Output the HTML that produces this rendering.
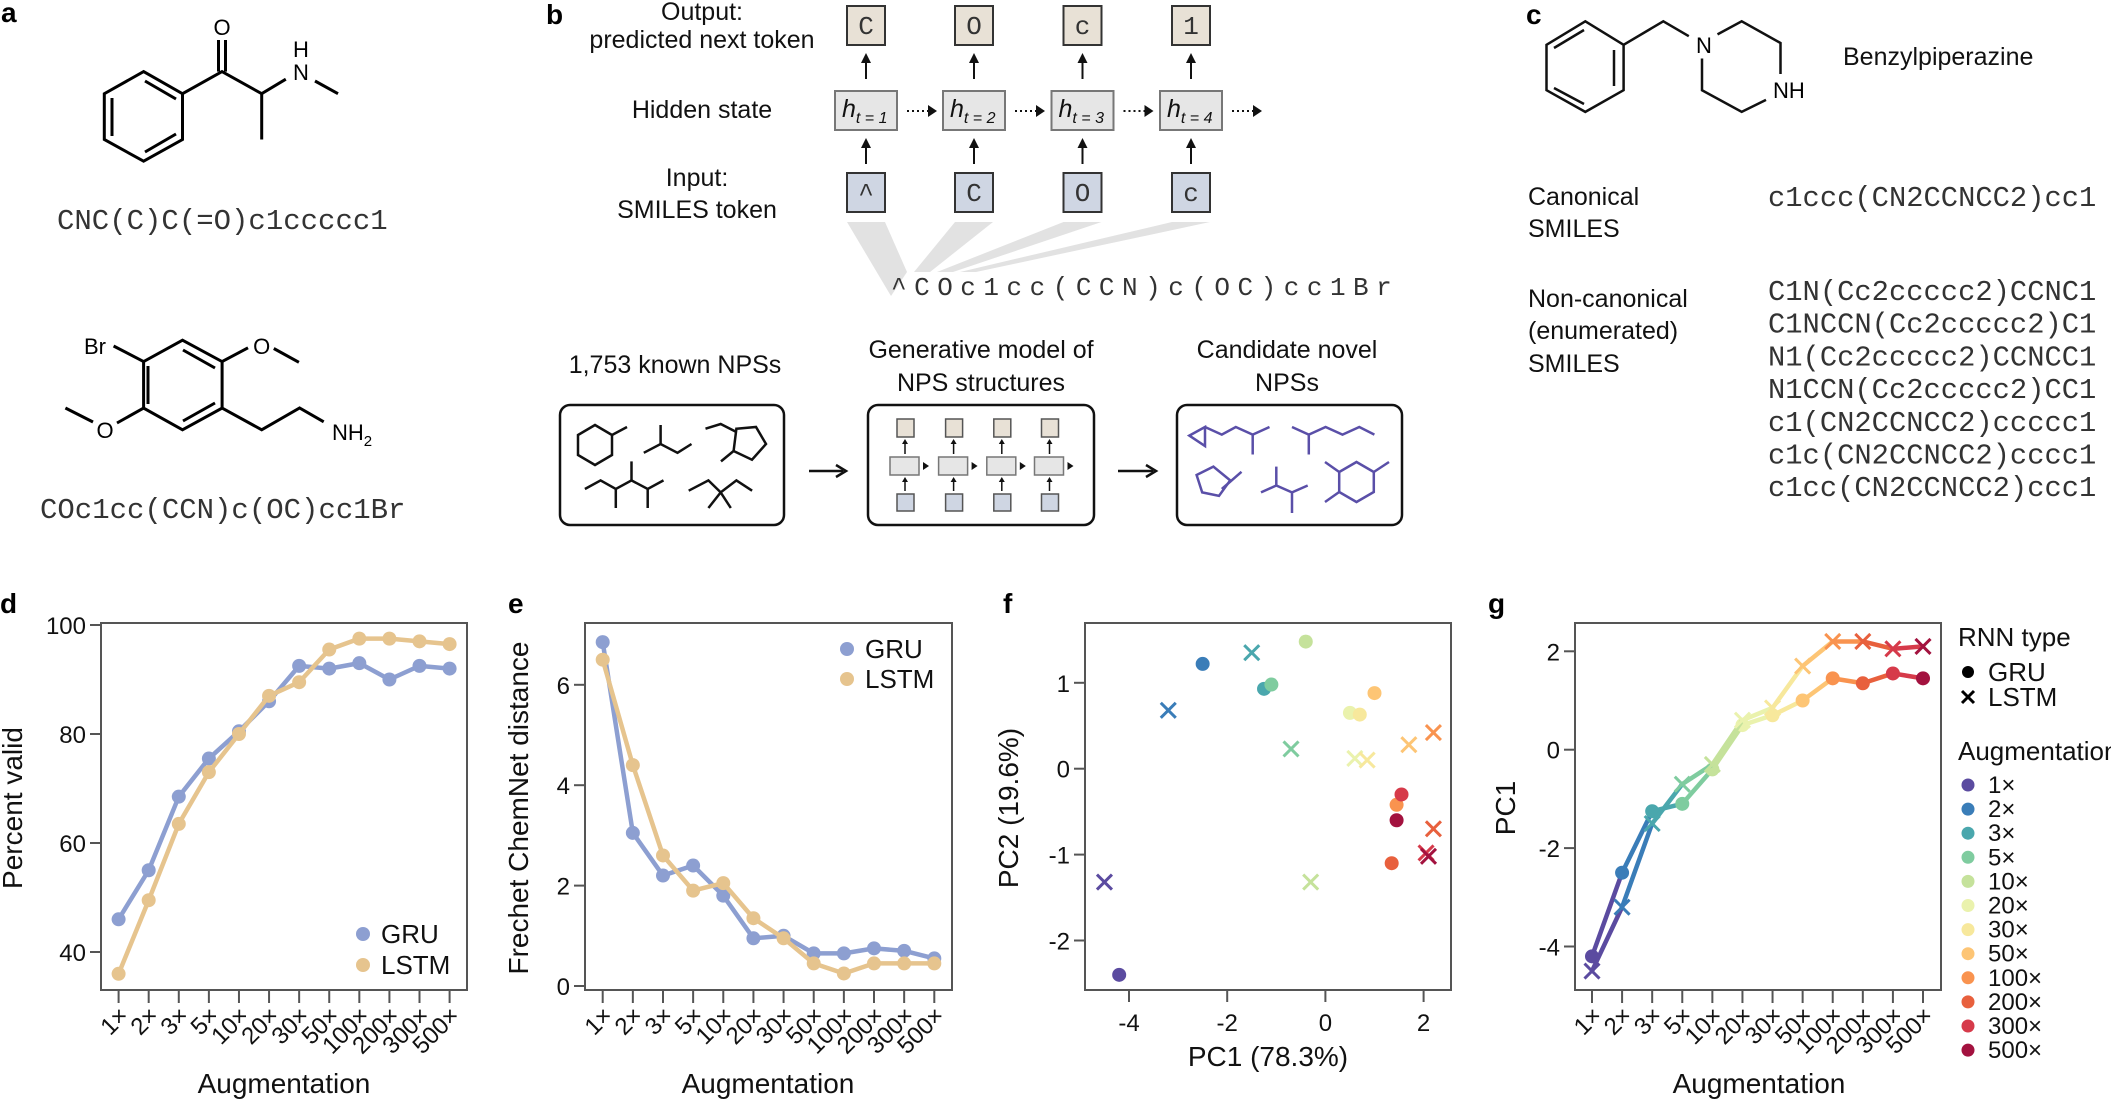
<!DOCTYPE html>
<html><head><meta charset="utf-8">
<style>
html,body{margin:0;padding:0;background:#fff;}
svg{display:block;font-family:"Liberation Sans",sans-serif;}
.mono{font-family:"Liberation Mono",monospace;fill:#333;}
.lbl{font-weight:bold;font-size:28px;}
.t{font-size:25px;fill:#111;}
.tick{font-size:24px;fill:#111;}
</style></head>
<body>
<svg id="fig" width="2111" height="1105" viewBox="0 0 2111 1105" xmlns="http://www.w3.org/2000/svg">
<!-- Panel a -->
<g stroke="#000" stroke-width="3" fill="none">
<text class="lbl" x="1" y="22" stroke="none" fill="#000">a</text>
<polygon points="143.6,71.6 182.5,93.7 182.5,139.5 143.6,161.2 104.3,139.5 104.3,93.7"/>
<line x1="112" y1="98" x2="112" y2="136"/><line x1="145" y1="81" x2="176" y2="99"/><line x1="145" y1="152" x2="176" y2="134"/>
<polyline points="182.5,93.7 222,71.6 261.7,93.7 285.8,79.2"/>
<line x1="261.7" y1="93.7" x2="261.7" y2="139.5"/>
<line x1="218.5" y1="71.6" x2="218.5" y2="40"/><line x1="225.5" y1="71.6" x2="225.5" y2="40"/>
<line x1="315" y1="81" x2="338" y2="93.7"/>
<text x="222" y="35" text-anchor="middle" font-size="22" stroke="none" fill="#000">O</text>
<text x="301" y="57" text-anchor="middle" font-size="22" stroke="none" fill="#000">H</text>
<text x="301" y="80" text-anchor="middle" font-size="22" stroke="none" fill="#000">N</text>
<text class="mono" x="57" y="229" font-size="29" stroke="none">CNC(C)C(=O)c1ccccc1</text>
<polygon points="182.5,340.2 222.1,361.6 222.1,408.1 182.5,429.8 143.6,408.1 143.6,361.6"/>
<line x1="148" y1="366" x2="148" y2="404"/><line x1="183" y1="350" x2="215" y2="368"/><line x1="183" y1="421" x2="215" y2="403"/>
<line x1="143.6" y1="361.6" x2="113.6" y2="346"/>
<line x1="222.1" y1="361.6" x2="248" y2="347.8"/><line x1="273.8" y1="348.5" x2="298.9" y2="362.3"/>
<line x1="143.6" y1="408.1" x2="117" y2="423"/><line x1="93" y1="422" x2="65.4" y2="408"/>
<polyline points="222.1,408.1 261.7,429.8 299.6,408 323.7,421.8"/>
<text x="84" y="354" font-size="22" stroke="none" fill="#000">Br</text>
<text x="261.7" y="354" text-anchor="middle" font-size="22" stroke="none" fill="#000">O</text>
<text x="105" y="438" text-anchor="middle" font-size="22" stroke="none" fill="#000">O</text>
<text x="332" y="440" font-size="22" stroke="none" fill="#000">NH<tspan font-size="15" dy="6">2</tspan></text>
<text class="mono" x="40" y="518" font-size="29" stroke="none">COc1cc(CCN)c(OC)cc1Br</text>
</g>

<!-- Panel b -->
<g>
<text class="lbl" x="546" y="24">b</text>
<text class="t" x="702" y="20" text-anchor="middle">Output:</text>
<text class="t" x="702" y="48" text-anchor="middle">predicted next token</text>
<text class="t" x="702" y="118" text-anchor="middle">Hidden state</text>
<text class="t" x="697" y="186" text-anchor="middle">Input:</text>
<text class="t" x="697" y="218" text-anchor="middle">SMILES token</text>
<g id="fan" fill="#e2e2e2"></g>
<text class="mono" x="891" y="295" font-size="26" letter-spacing="7.5" fill="#444">^COc1cc(CCN)c(OC)cc1Br</text>
<g id="rnn"></g>
<text class="t" x="675" y="373" text-anchor="middle">1,753 known NPSs</text>
<text class="t" x="981" y="358" text-anchor="middle">Generative model of</text>
<text class="t" x="981" y="391" text-anchor="middle">NPS structures</text>
<text class="t" x="1287" y="358" text-anchor="middle">Candidate novel</text>
<text class="t" x="1287" y="391" text-anchor="middle">NPSs</text>
<g fill="none" stroke="#111" stroke-width="2.5">
<rect x="560" y="405" width="224" height="120" rx="10"/>
<rect x="868" y="405" width="226" height="120" rx="10"/>
<rect x="1177" y="405" width="225" height="120" rx="10"/>
<line x1="809" y1="471" x2="843" y2="471"/><polyline points="836,465 846,471 836,477"/>
<line x1="1118" y1="471" x2="1153" y2="471"/><polyline points="1146,465 1156,471 1146,477"/>
<polygon points="595,425 612,435 612,455 595,465 578,455 578,435"/>
<line x1="612" y1="435" x2="627" y2="427"/>
<polyline points="660.6,425 660.6,444"/><polyline points="643.8,452.8 660.6,444 677.5,452.8 691.5,444"/>
<polygon points="736.4,428.7 756,427 766,444 752,459.7 733.6,451"/>
<polyline points="736.4,432 720.7,424 705.5,428.7"/><line x1="733.6" y1="451" x2="721" y2="461.4"/>
<polyline points="584.9,489 600.6,480.4 615.8,489 631.5,480.4 647.7,489 663.5,480.4"/>
<line x1="615.8" y1="489" x2="615.8" y2="508"/><line x1="631.5" y1="480.4" x2="631.5" y2="461.4"/><line x1="647.7" y1="489" x2="647.7" y2="508"/>
<polyline points="688.7,490.7 708.4,480.4 720.7,492.4 736.4,480.4 752.1,490.7"/>
<line x1="720.7" y1="492.4" x2="708.4" y2="508"/><line x1="720.7" y1="492.4" x2="730.8" y2="508"/>
</g>
<g fill="none" stroke="#5a4fa8" stroke-width="2.5">
<polygon points="1189.3,435.6 1205,427 1205,446"/>
<polyline points="1205,427 1221.8,434.6 1235.8,427 1252.7,434.6 1269.5,427"/><line x1="1252.7" y1="434.6" x2="1252.7" y2="454.5"/>
<polyline points="1292,427 1308.8,434.6 1325.6,427 1342.5,434.6 1359.3,427 1374.4,434.6"/><line x1="1308.8" y1="434.6" x2="1308.8" y2="454.5"/>
<polygon points="1196.6,475 1213.4,466.6 1230.2,480.4 1219,495.9 1202.2,492.4"/><line x1="1221.8" y1="489" x2="1241.5" y2="471.8"/>
<polyline points="1261,492.4 1276.3,485.5 1292,492.4 1307.7,485.5"/><line x1="1276.3" y1="485.5" x2="1276.3" y2="466.6"/><line x1="1292" y1="492.4" x2="1292" y2="513"/>
<polygon points="1356.5,462 1373.8,472 1373.8,492 1356.5,502 1339.2,492 1339.2,472"/>
<line x1="1373.8" y1="472" x2="1389" y2="462"/><line x1="1339.2" y1="492" x2="1325" y2="502"/><line x1="1339.2" y1="472" x2="1325" y2="462"/>
</g>
</g>

<!-- Panel c -->
<g stroke="#111" stroke-width="2.5" fill="none">
<text class="lbl" x="1526" y="24" stroke="none" fill="#000">c</text>
<polygon points="1585.3,21.3 1623.6,44.8 1623.6,90.2 1585.3,111.9 1546.5,90.2 1546.5,44.8"/>
<line x1="1554" y1="48" x2="1584" y2="30"/><line x1="1614" y1="50" x2="1614" y2="86"/><line x1="1554" y1="88" x2="1584" y2="104"/>
<polyline points="1623.6,44.8 1663.3,21.3 1688.8,36.2"/>
<polyline points="1717.5,34.4 1741.7,21.3 1780.5,43 1780.5,74"/>
<polyline points="1766,99.9 1741.7,111.9 1702,90.2 1702,58.5"/>
<text x="1704" y="53" text-anchor="middle" font-size="22" stroke="none" fill="#000">N</text>
<text x="1773" y="98" font-size="22" stroke="none" fill="#000">NH</text>
<text class="t" x="1843" y="65" stroke="none">Benzylpiperazine</text>
<text class="t" x="1528" y="205" stroke="none">Canonical</text>
<text class="t" x="1528" y="237" stroke="none">SMILES</text>
<text class="t" x="1528" y="307" stroke="none">Non-canonical</text>
<text class="t" x="1528" y="339" stroke="none">(enumerated)</text>
<text class="t" x="1528" y="372" stroke="none">SMILES</text>
<g id="smiles" stroke="none"></g>
</g>

<g id="charts"></g>
</svg>
<script>
// ---------- chart data ----------
const categories = ['1×','2×','3×','5×','10×','20×','30×','50×','100×','200×','300×','500×'];
const validGRU  = [46,55,68.5,75.5,80.5,86,92.5,92,93,90,92.5,92];
const validLSTM = [36,49.5,63.5,73,80,87,89.5,95.5,97.5,97.5,97,96.5];
const fcdGRU  = [6.85,3.05,2.2,2.4,1.8,0.95,1.0,0.65,0.65,0.75,0.7,0.55];
const fcdLSTM = [6.5,4.4,2.6,1.9,2.05,1.35,0.95,0.45,0.25,0.45,0.45,0.45];
const pc1GRU  = [-4.2,-2.5,-1.25,-1.1,-0.4,0.5,0.7,1.0,1.45,1.35,1.55,1.45];
const pc2GRU  = [-2.4,1.22,0.93,0.98,1.48,0.65,0.63,0.88,-0.42,-1.1,-0.3,-0.6];
const pc1LSTM = [-4.5,-3.2,-1.5,-0.7,-0.3,0.6,0.85,1.7,2.2,2.2,2.05,2.1];
const pc2LSTM = [-1.32,0.68,1.35,0.23,-1.32,0.12,0.1,0.28,0.42,-0.7,-0.98,-1.02];
const augColors = ['#5b4ba0','#3a7db8','#4aa7ad','#7fcc9f','#c5e29b','#eaf2ad','#f7e89c','#fdc575','#f9934f','#e8603d','#d63a4a','#a3123f'];
const validTicks = [40,60,80,100];
const fcdTicks = [0,2,4,6];
const pcXTicks = [-4,-2,0,2];
const pcYTicks = [-2,-1,0,1];
const gTicks = [-4,-2,0,2];
const smilesCanon = 'c1ccc(CN2CCNCC2)cc1';
const smilesEnum = ['C1N(Cc2ccccc2)CCNC1','C1NCCN(Cc2ccccc2)C1','N1(Cc2ccccc2)CCNCC1','N1CCN(Cc2ccccc2)CC1','c1(CN2CCNCC2)ccccc1','c1c(CN2CCNCC2)cccc1','c1cc(CN2CCNCC2)ccc1'];
const outTokens = ['C','O','c','1'];
const inTokens = ['^','C','O','c'];

const NS='http://www.w3.org/2000/svg';
function mk(tag, parent, attrs){const e=document.createElementNS(NS,tag);for(const k in attrs)e.setAttribute(k,attrs[k]);parent.appendChild(e);return e;}
const charts=document.getElementById('charts');

// ---------- panel c smiles ----------
const sg=document.getElementById('smiles');
let st=mk('text',sg,{x:1768,y:206,'class':'mono','font-size':28.8});
st.textContent=smilesCanon;


smilesEnum.forEach((s,i)=>{const t=mk('text',sg,{x:1768,y:300+i*32.7,'class':'mono','font-size':28.8});t.textContent=s;

});

// ---------- panel b rnn ----------
const rnn=document.getElementById('rnn'), fan=document.getElementById('fan');
const colX=[866,974,1082.5,1191];
const charX=[891,914,937,960];
colX.forEach((cx,i)=>{
  const f=mk('polygon',fan,{points:`${cx-19},222 ${cx+19},222 ${charX[i]+16},272 ${charX[i]},${i==0?296:272}`});
  
  
  const o=mk('rect',rnn,{x:cx-19,y:6,width:38,height:39,fill:'#e8e1d6',stroke:'#333','stroke-width':2});
  
  
  const ot=mk('text',rnn,{x:cx,y:34,'text-anchor':'middle','class':'mono','font-size':26,fill:'#111'});ot.textContent=outTokens[i];
  const h=mk('rect',rnn,{x:cx-31,y:91,width:62,height:39,fill:'#e6e6e6',stroke:'#777','stroke-width':2});
  
  
  const ht=mk('text',rnn,{x:cx-24,y:117,'font-size':25,'font-style':'italic',fill:'#111'});
  ht.innerHTML=`h<tspan font-size="16" dy="6">t = ${i+1}</tspan>`;
  const inb=mk('rect',rnn,{x:cx-19,y:173,width:38,height:39,fill:'#cfd6e3',stroke:'#333','stroke-width':2});
  
  
  const it=mk('text',rnn,{x:cx,y:201,'text-anchor':'middle','class':'mono','font-size':26,fill:'#111'});it.textContent=inTokens[i];
  [[79,55],[164,140]].forEach(([y1,y2])=>{mk('line',rnn,{x1:cx,y1:y1,x2:cx,y2:y2+6,stroke:'#111','stroke-width':2});mk('polygon',rnn,{points:`${cx-5},${y2+8} ${cx+5},${y2+8} ${cx},${y2-2}`,fill:'#111'});});
  mk('line',rnn,{x1:cx+41,y1:111,x2:cx+64,y2:111,stroke:'#111','stroke-width':2,'stroke-dasharray':'2,3'});
  mk('polygon',rnn,{points:`${cx+62},105 ${cx+71},111 ${cx+62},117`,fill:'#111'});
  const mx=[905,953.6,1001.8,1049.5][i];
  mk('rect',rnn,{x:mx-8,y:419,width:17,height:18,fill:'#e8e1d6',stroke:'#555','stroke-width':1.5});
  mk('rect',rnn,{x:mx-15,y:457,width:29,height:18,fill:'#e6e6e6',stroke:'#777','stroke-width':1.5});
  mk('rect',rnn,{x:mx-8,y:494,width:17,height:17,fill:'#cfd6e3',stroke:'#555','stroke-width':1.5});
  mk('line',rnn,{x1:mx,y1:454,x2:mx,y2:442,stroke:'#111','stroke-width':1.5});
  mk('line',rnn,{x1:mx,y1:491,x2:mx,y2:480,stroke:'#111','stroke-width':1.5});
  mk('polygon',rnn,{points:`${mx-3},444 ${mx+3},444 ${mx},439`,fill:'#111'});
  mk('polygon',rnn,{points:`${mx-3},482 ${mx+3},482 ${mx},477`,fill:'#111'});
  mk('polygon',rnn,{points:`${mx+18},462 ${mx+24},466 ${mx+18},470`,fill:'#111'});
});

// ---------- generic chart helpers ----------
function frame(x0,x1,y0,y1,name){
  const r=mk('rect',charts,{x:x0,y:y0,width:x1-x0,height:y1-y0,fill:'none',stroke:'#555','stroke-width':2});
  
  
}
function yAxis(ticks,sy,x0,name){
  ticks.forEach(v=>{const y=sy(v);
    mk('line',charts,{x1:x0-11,y1:y,x2:x0,y2:y,stroke:'#555','stroke-width':2});
    const t=mk('text',charts,{x:x0-15,y:y+9,'text-anchor':'end','class':'tick','font-size':26});t.textContent=v;
    
    });
}
function catAxis(sx,yb,name){
  categories.forEach((c,i)=>{const x=sx(i);
    mk('line',charts,{x1:x,y1:yb,x2:x,y2:yb+13,stroke:'#555','stroke-width':2});
    const t=mk('text',charts,{x:x+11,y:yb+27,'text-anchor':'end','class':'tick',transform:`rotate(-45 ${x+11} ${yb+27})`});t.textContent=c;
    
    });
}
function title(txt,x,y,rot,name,size){
  const t=mk('text',charts,{x:x,y:y,'text-anchor':'middle','font-size':size||28,fill:'#111'});
  if(rot)t.setAttribute('transform',`rotate(-90 ${x} ${y})`);
  t.textContent=txt;
  
  
}
function series(vals,sx,sy,color,name){
  mk('polyline',charts,{points:vals.map((v,i)=>`${sx(i)},${sy(v)}`).join(' '),fill:'none',stroke:color,'stroke-width':4.5,'stroke-linejoin':'round'});
  vals.forEach((v,i)=>{const c=mk('circle',charts,{cx:sx(i),cy:sy(v),r:7,fill:color});
    
    });
}
function legendLine(x,y,color,txt,name){
  const c=mk('circle',charts,{cx:x,cy:y,r:7,fill:color});
  
  
  const t=mk('text',charts,{x:x+18,y:y+9,'font-size':26,fill:'#111'});t.textContent=txt;
}
function panelLabel(t,x,y){const e=mk('text',charts,{x:x,y:y,'class':'lbl',fill:'#000'});e.textContent=t;
  
  }
function cross(x,y,color,s){mk('path',charts,{d:`M${x-s},${y-s}L${x+s},${y+s}M${x-s},${y+s}L${x+s},${y-s}`,stroke:color,'stroke-width':3,fill:'none'});}

const GRUc='#8d9fd1', LSTMc='#e6c48e';
// ---------- panel d ----------
{const sx=i=>118.6+i*(449.6-118.6)/11, sy=v=>625+(100-v)*327/60;
 frame(101,467,623,990,'plot-d-frame'); yAxis(validTicks,sy,101,'d-y'); catAxis(sx,990,'d-x');
 series(validGRU,sx,sy,GRUc,'gru'); series(validLSTM,sx,sy,LSTMc,'lstm');
 legendLine(363,934,GRUc,'GRU','legend-gru'); legendLine(363,965,LSTMc,'LSTM','legend-lstm');
 title('Percent valid',22,808,true,'y-axis-title-d'); title('Augmentation',284,1093,false,'x-axis-title-d');
 panelLabel('d',0,613);}
// ---------- panel e ----------
{const sx=i=>602.7+i*(934.3-602.7)/11, sy=v=>986-v*50.2;
 frame(585,952,623,990,'plot-e-frame'); yAxis(fcdTicks,sy,585,'e-y'); catAxis(sx,990,'e-x');
 series(fcdGRU,sx,sy,GRUc,'gru'); series(fcdLSTM,sx,sy,LSTMc,'lstm');
 legendLine(847,649,GRUc,'GRU','legend-gru'); legendLine(847,679,LSTMc,'LSTM','legend-lstm');
 title('Frechet ChemNet distance',528,808,true,'y-axis-title-e'); title('Augmentation',768,1093,false,'x-axis-title-e');
 panelLabel('e',508,613);}
// ---------- panel f ----------
{const sx=v=>1325.4+v*49.1, sy=v=>768.7-v*85.9;
 frame(1085,1451,623,990,'plot-f-frame'); yAxis(pcYTicks,sy,1085,'f-y');
 pcXTicks.forEach(v=>{const x=sx(v);mk('line',charts,{x1:x,y1:990,x2:x,y2:1002,stroke:'#555','stroke-width':2});
   const t=mk('text',charts,{x:x,y:1031,'text-anchor':'middle','class':'tick','font-size':26});t.textContent=v;
   
   });
 pc1GRU.forEach((v,i)=>{const c=mk('circle',charts,{cx:sx(v),cy:sy(pc2GRU[i]),r:7,fill:augColors[i]});
   
   });
 pc1LSTM.forEach((v,i)=>cross(sx(v),sy(pc2LSTM[i]),augColors[i],7.5));
 title('PC1 (78.3%)',1268,1066,false,'x-axis-title-f'); title('PC2 (19.6%)',1018,808,true,'y-axis-title-f');
 panelLabel('f',1003,613);}
// ---------- panel g ----------
{const sx=i=>1592+i*(1923-1592)/11, sy=v=>749.7-v*49.2;
 frame(1575,1941,623,990,'plot-g-frame'); yAxis(gTicks,sy,1575,'g-y'); catAxis(sx,990,'g-x');
 [pc1GRU,pc1LSTM].forEach((arr,k)=>{
   for(let i=0;i<arr.length-1;i++)mk('line',charts,{x1:sx(i),y1:sy(arr[i]),x2:sx(i+1),y2:sy(arr[i+1]),stroke:augColors[i],'stroke-width':4.5,'stroke-linecap':'round'});
   arr.forEach((v,i)=>{if(k==0){const c=mk('circle',charts,{cx:sx(i),cy:sy(v),r:7,fill:augColors[i]});
     
     }
     else cross(sx(i),sy(v),augColors[i],7.5);});
 });
 title('PC1',1515,808,true,'y-axis-title-g'); title('Augmentation',1759,1093,false,'x-axis-title-g');
 panelLabel('g',1488,613);
 const lt=mk('text',charts,{x:1958,y:646,'font-size':26,fill:'#111'});lt.textContent='RNN type';
 
 
 mk('circle',charts,{cx:1968,cy:672,r:6,fill:'#000'});
 const g1=mk('text',charts,{x:1988,y:681,'font-size':26,fill:'#111'});g1.textContent='GRU';
 cross(1968,697,'#000',6);
 const g2=mk('text',charts,{x:1988,y:706,'font-size':26,fill:'#111'});g2.textContent='LSTM';
 const at=mk('text',charts,{x:1958,y:760,'font-size':26,fill:'#111'});at.textContent='Augmentation';
 
 
 categories.forEach((c,i)=>{const y=785+i*24.1;
   const d=mk('circle',charts,{cx:1968,cy:y,r:6.5,fill:augColors[i]});
   
   
   const t=mk('text',charts,{x:1988,y:y+8,'font-size':24,fill:'#111'});t.textContent=c;});
}
</script>
</body></html>
